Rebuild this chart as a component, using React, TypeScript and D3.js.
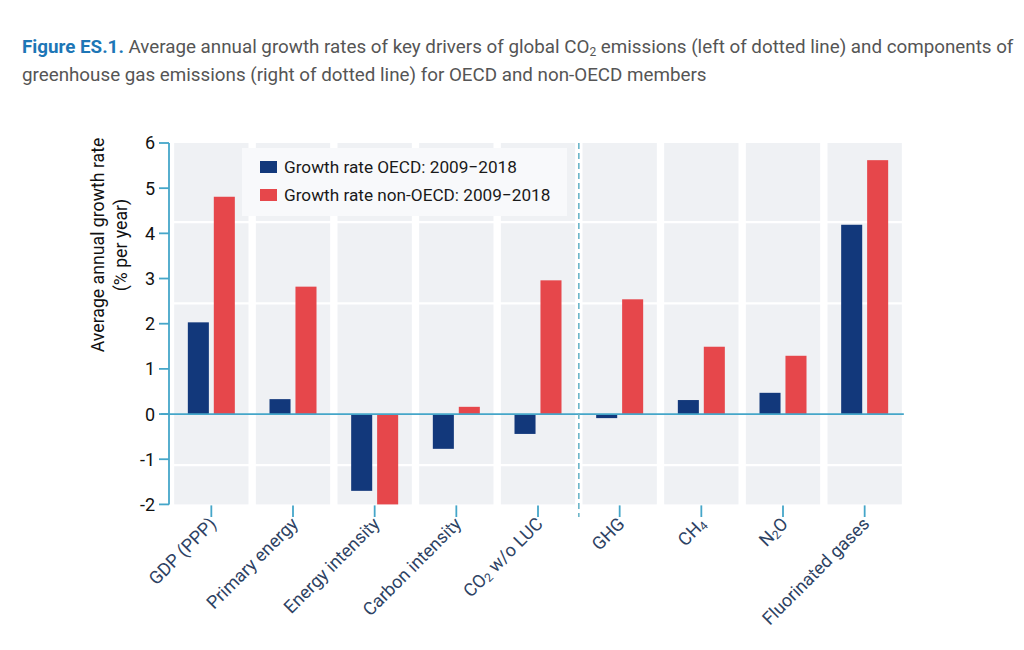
import * as d3 from "d3";
import React from "react";

// categories, left of the dotted line are drivers of CO2, right are GHG components
const categories = [
    "GDP (PPP)",
    "Primary energy",
    "Energy intensity",
    "Carbon intensity",
    "CO2 w/o LUC",
    "GHG",
    "CH4",
    "N2O",
    "Fluorinated gases",
];
// how the label is written, with subscript parts
const categoryLabels: [string, string, string][] = [
    ["GDP (PPP)", "", ""],
    ["Primary energy", "", ""],
    ["Energy intensity", "", ""],
    ["Carbon intensity", "", ""],
    ["CO", "2", " w/o LUC"],
    ["GHG", "", ""],
    ["CH", "4", ""],
    ["N", "2", "O"],
    ["Fluorinated gases", "", ""],
];
const oecd = [2.03, 0.33, -1.7, -0.77, -0.44, -0.09, 0.31, 0.47, 4.19];
const nonOecd = [4.81, 2.82, -2.0, 0.16, 2.96, 2.54, 1.49, 1.29, 5.62];
const seriesNames = ["Growth rate OECD: 2009\u22122018", "Growth rate non-OECD: 2009\u22122018"];
const yTicks = [6, 5, 4, 3, 2, 1, 0, -1, -2];
const gridValues = [4.25, 2.45, -1.13]; // white bands in the background
const splitAfter = "CO2 w/o LUC";

const NAVY = "#12387b";
const RED = "#e6474b";
const AXIS = "#45a6c9";

export default function App() {
    const width = 1024;
    const height = 650;

    // scales
    const x = d3.scaleBand().domain(categories).range([170.5, 905.5]).paddingInner(0.09).paddingOuter(0.045);
    const y = d3.scaleLinear().domain([-2, 6]).range([504.4, 143]);
    const sub = d3.scaleBand().domain(["oecd", "non"]).range([-23.5, 23.5]).paddingInner(0.19);

    const bw = x.bandwidth();
    const cx = (c: string) => (x(c) as number) + bw / 2;
    const splitIdx = categories.indexOf(splitAfter);
    const splitX = ((x(categories[splitIdx]) as number) + bw + (x(categories[splitIdx + 1]) as number)) / 2;

    const plotLeft = 169;
    const plotRight = (x(categories[categories.length - 1]) as number) + bw + 2;

    return (
        <svg width={width} height={height} style={{ position: "absolute", left: 0, top: 0, background: "#fff" }}
            fontFamily="Roboto, 'Noto Sans', sans-serif">
            {/* title */}
            <text x={22} y={53} fontSize={18.8} fill="#555">
                <tspan fill="#1d76b6" fontWeight="bold">Figure ES.1.</tspan>
                <tspan> Average annual growth rates of key drivers of global CO</tspan>
                <tspan fontSize={12} dy={3}>2</tspan>
                <tspan dy={-3}> emissions (left of dotted line) and components of</tspan>
            </text>
            <text x={22} y={81} fontSize={18.8} fill="#555">
                greenhouse gas emissions (right of dotted line) for OECD and non-OECD members
            </text>

            {/* grey panels, one per category */}
            {categories.map(c => (
                <rect key={"p" + c} x={x(c)} y={y(6)} width={bw} height={y(-2) - y(6)} fill="#eff1f4" />
            ))}
            {/* white horizontal bands */}
            {gridValues.map(v => (
                <line key={"g" + v} x1={plotLeft + 1} x2={plotRight} y1={y(v)} y2={y(v)} stroke="#fff" strokeWidth={2.2} />
            ))}

            {/* legend */}
            <rect x={242} y={148} width={325} height={68} fill="#f8f9fb" />
            {seriesNames.map((s, i) => (
                <g key={s} transform={`translate(260,${167 + i * 28})`}>
                    <rect x={0} y={-6} width={17} height={12} fill={i === 0 ? NAVY : RED} />
                    <text x={24} y={6} fontSize={17.2} fill="#1a1a1a">{s}</text>
                </g>
            ))}

            {/* bars */}
            {categories.map((c, i) => (
                <g key={"b" + c}>
                    <rect x={cx(c) + (sub("oecd") as number)} width={sub.bandwidth()}
                        y={y(Math.max(0, oecd[i]))} height={Math.abs(y(oecd[i]) - y(0))} fill={NAVY} />
                    <rect x={cx(c) + (sub("non") as number)} width={sub.bandwidth()}
                        y={y(Math.max(0, nonOecd[i]))} height={Math.abs(y(nonOecd[i]) - y(0))} fill={RED} />
                </g>
            ))}

            {/* zero line */}
            <line x1={plotLeft - 8} x2={plotRight} y1={y(0)} y2={y(0)} stroke={AXIS} strokeWidth={1.8} />

            {/* dotted split line */}
            <line x1={splitX} x2={splitX} y1={y(6)} y2={517} stroke="#6bb5c9" strokeWidth={1.6} strokeDasharray="6,4" />

            {/* y axis */}
            <line x1={plotLeft} x2={plotLeft} y1={y(6)} y2={y(-2)} stroke={AXIS} strokeWidth={1.8} />
            {yTicks.map(t => (
                <g key={"t" + t}>
                    <line x1={plotLeft - 10} x2={plotLeft} y1={y(t)} y2={y(t)} stroke={AXIS} strokeWidth={1.8} />
                    <text x={plotLeft - 14} y={y(t)} dy="0.36em" textAnchor="end" fontSize={18} fill="#111">
                        {t}
                    </text>
                </g>
            ))}
            <text transform={`translate(104,245) rotate(-90)`} textAnchor="middle" fontSize={17.7} fill="#111">
                Average annual growth rate
            </text>
            <text transform={`translate(127,245) rotate(-90)`} textAnchor="middle" fontSize={17.7} fill="#111">
                (% per year)
            </text>

            {/* x axis ticks and labels */}
            {categories.map((c, i) => {
                const [a, s, b] = categoryLabels[i];
                return (
                    <g key={"x" + c}>
                        <line x1={cx(c)} x2={cx(c)} y1={y(-2) + 1} y2={517} stroke={AXIS} strokeWidth={1.8} />
                        <text transform={`translate(${cx(c) + 6},${525}) rotate(-45)`} textAnchor="end"
                            fontSize={18} fill="#2d4263">
                            {a}
                            {s && <tspan fontSize={12} dy={2}>{s}</tspan>}
                            {s && <tspan dy={-2}>{b}</tspan>}
                        </text>
                    </g>
                );
            })}
        </svg>
    );
}
